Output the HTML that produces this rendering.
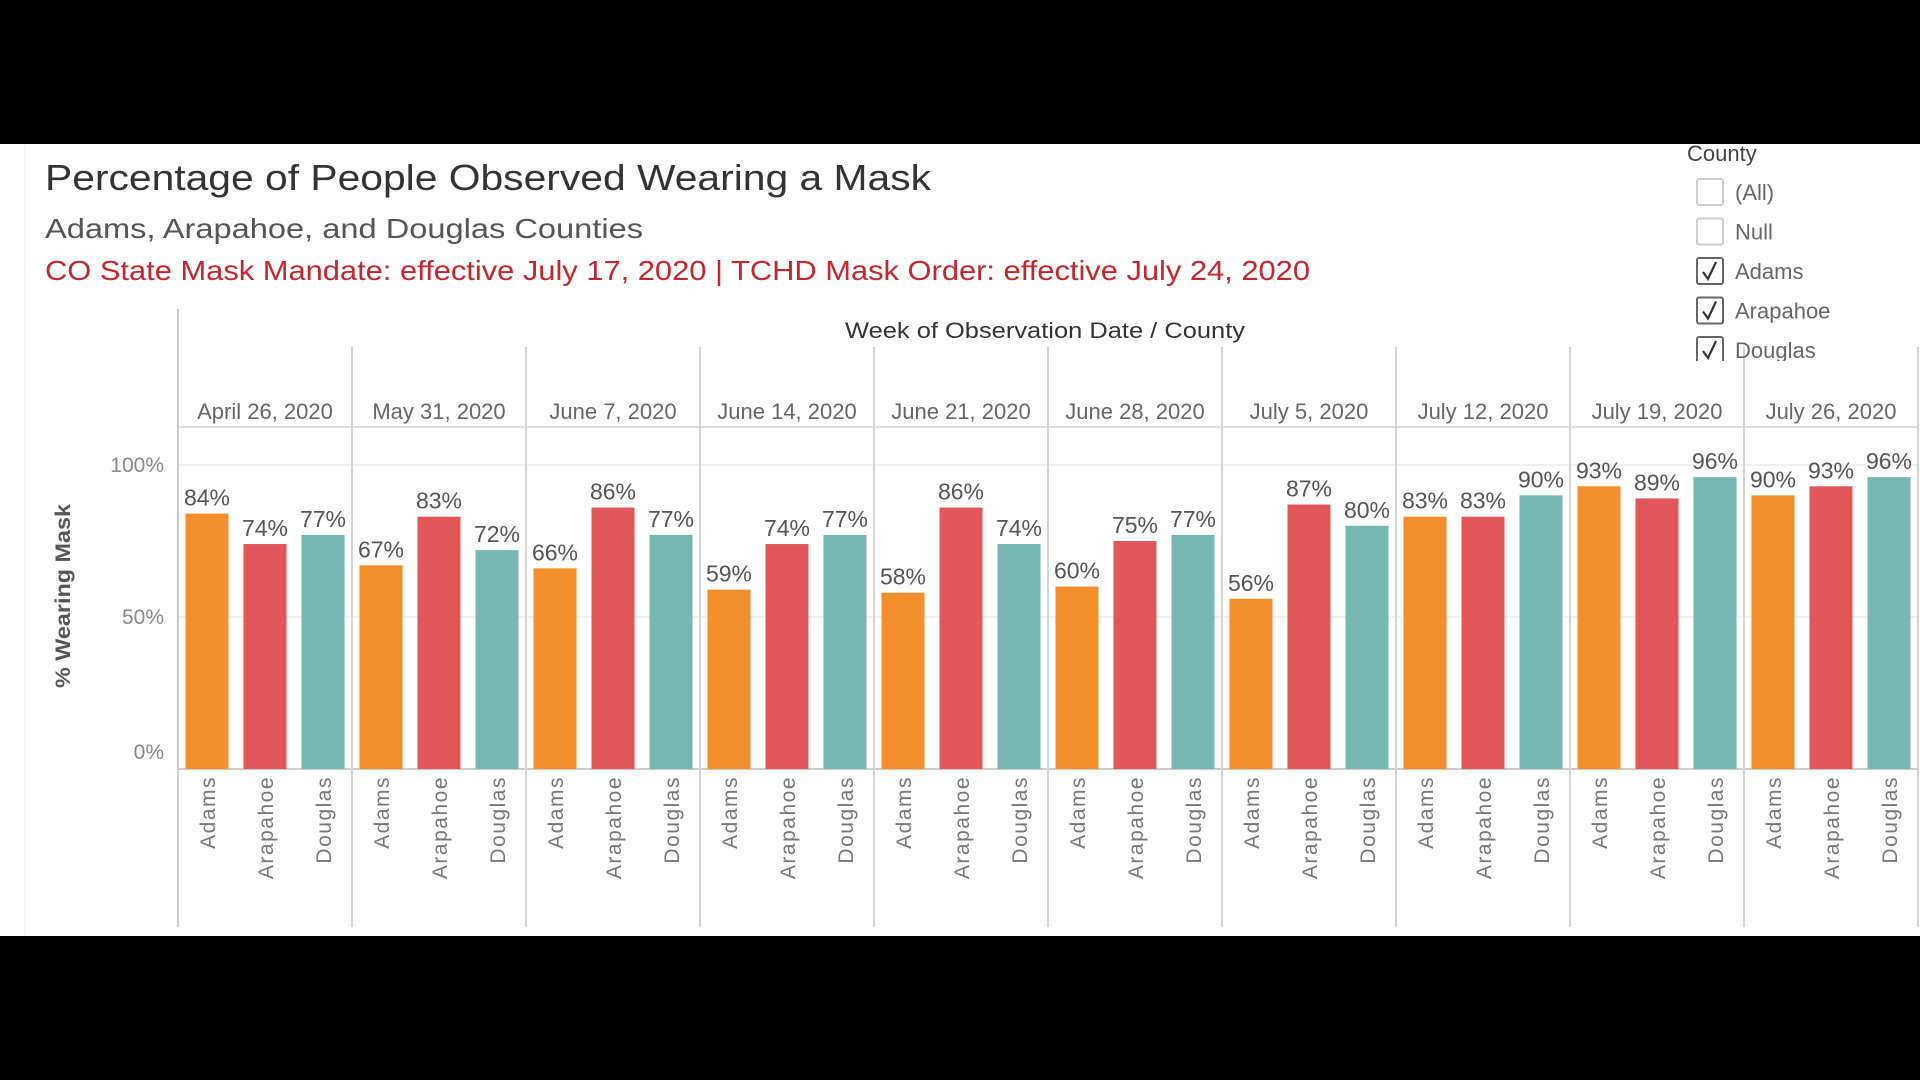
<!DOCTYPE html>
<html><head><meta charset="utf-8"><style>
html,body{margin:0;padding:0;background:#000;}
svg{display:block;font-family:"Liberation Sans",sans-serif;}
</style></head><body>
<svg id="chart" width="1920" height="1080" viewBox="0 0 1920 1080">
<rect x="0" y="0" width="1920" height="1080" fill="#000"/>
<rect x="0" y="144" width="1920" height="792" fill="#fff"/>
<line x1="25" y1="144" x2="25" y2="936" stroke="#eee"/>
<text x="45" y="190" font-size="36" fill="#333" textLength="886" lengthAdjust="spacingAndGlyphs">Percentage of People Observed Wearing a Mask</text>
<text x="45" y="238" font-size="28" fill="#555" textLength="598" lengthAdjust="spacingAndGlyphs">Adams, Arapahoe, and Douglas Counties</text>
<text x="45" y="280" font-size="28" fill="#c4262e" textLength="1265" lengthAdjust="spacingAndGlyphs">CO State Mask Mandate: effective July 17, 2020 | TCHD Mask Order: effective July 24, 2020</text>
<text x="1045" y="338" font-size="22" fill="#333" text-anchor="middle" textLength="400" lengthAdjust="spacingAndGlyphs">Week of Observation Date  /  County</text>
<text x="70" y="596" font-size="21" font-weight="bold" fill="#555" text-anchor="middle" transform="rotate(-90 70 596)" textLength="184" lengthAdjust="spacingAndGlyphs">% Wearing Mask</text>
<g id="grid"></g>
<g id="bars"></g>
<g id="legend"></g>
</svg>
<script>
const dates = ["April 26, 2020","May 31, 2020","June 7, 2020","June 14, 2020","June 21, 2020","June 28, 2020","July 5, 2020","July 12, 2020","July 19, 2020","July 26, 2020"];
const counties = ["Adams","Arapahoe","Douglas"];
const adams = [84,67,66,59,58,60,56,83,93,90];
const arapahoe = [74,83,86,74,86,75,87,83,89,93];
const douglas = [77,72,77,77,74,77,80,90,96,96];
const yTicks = [0,50,100];
const legendItems = ["(All)","Null","Adams","Arapahoe","Douglas"];
const legendChecked = [false,false,true,true,true];

const NS = "http://www.w3.org/2000/svg";
const colors = ["#f28e2b","#e15759","#76b7b2"];
const x0 = 178, x1 = 1918, y0 = 769, y100 = 465;
const panelW = (x1 - x0) / dates.length;
const barW = 43;
function yScale(v){ return y0 - (y0 - y100) * v / 100; }
function xCenter(d, c){ return x0 + d * panelW + panelW / 6 * (2 * c + 1); }
function mk(tag, attrs, parent){ const e = document.createElementNS(NS, tag); for (const k in attrs) e.setAttribute(k, attrs[k]); parent.appendChild(e); return e; }

const grid = document.getElementById("grid");
const bars = document.getElementById("bars");
const series = [adams, arapahoe, douglas];

// gridlines and y ticks
yTicks.forEach(t => {
  const y = yScale(t);
  if (t > 0) { const g = mk("line", {x1: x0, x2: x1, y1: y, y2: y, stroke: "#f0f0f0", "stroke-width": 2}, grid);
    
     }
  const lbl = mk("text", {x: 164, y: (t === 0 ? y - 10 : y + 7), "font-size": 21, fill: "#888", "text-anchor": "end"}, grid);
  lbl.textContent = t + "%";
  
  
});
// frame lines
mk("line", {x1: x0, x2: x0, y1: 309, y2: 927, stroke: "#ccc", "stroke-width": 2}, grid);
mk("line", {x1: x0, x2: x1, y1: 427, y2: 427, stroke: "#ddd", "stroke-width": 2}, grid);
mk("line", {x1: x0, x2: x1, y1: y0, y2: y0, stroke: "#ccc", "stroke-width": 2}, grid);
for (let d = 1; d <= dates.length; d++) {
  const x = x0 + d * panelW;
  mk("line", {x1: x, x2: x, y1: 347, y2: 927, stroke: "#d4d4d4", "stroke-width": 2}, grid);
}
dates.forEach((dt, d) => {
  const t = mk("text", {x: x0 + d * panelW + panelW / 2, y: 419, "font-size": 22, fill: "#666", "text-anchor": "middle"}, grid);
  t.textContent = dt;
  
  
});

series.forEach((vals, c) => {
  vals.forEach((v, d) => {
    const cx = xCenter(d, c), top = yScale(v);
    const r = mk("rect", {x: cx - barW / 2, y: top, width: barW, height: y0 - top, fill: colors[c]}, bars);
    
    
    const t = mk("text", {x: cx, y: top - 8, "font-size": 23, fill: "#555", "text-anchor": "middle"}, bars);
    t.textContent = v + "%";
    
    
    const ct = mk("text", {x: cx + 8, y: 776, "font-size": 21, fill: "#777", "text-anchor": "end", "letter-spacing": "1.5", transform: "rotate(-90 " + (cx + 8) + " 776)"}, bars);
    ct.textContent = counties[c];
    
    
  });
});

// legend
const lg = document.getElementById("legend");
mk("clipPath", {id: "lgclip"}, lg).appendChild(document.createElementNS(NS, "rect"));
const cr = lg.querySelector("#lgclip rect");
cr.setAttribute("x", 1680); cr.setAttribute("y", 144); cr.setAttribute("width", 240); cr.setAttribute("height", 217);
const lt = mk("text", {x: 1687, y: 161, "font-size": 22, fill: "#444"}, lg);
lt.textContent = "County";


const lgi = mk("g", {"clip-path": "url(#lgclip)"}, lg);
legendItems.forEach((name, i) => {
  const cy = 192 + i * 39.5;
  const b = mk("rect", {x: 1697, y: cy - 13, width: 26, height: 26, fill: "#fff", stroke: legendChecked[i] ? "#666" : "#ccc", "stroke-width": 2, rx: 2}, lgi);
  
  
  if (legendChecked[i]) {
    mk("path", {d: "M1703 " + (cy + 1) + " L1708 " + (cy + 8) + " L1716 " + (cy - 9), fill: "none", stroke: "#333", "stroke-width": 2.2}, lgi);
  }
  const t = mk("text", {x: 1735, y: cy + 8, "font-size": 22, fill: "#666"}, lgi);
  t.textContent = name;
  
  
});
</script>
</body></html>
